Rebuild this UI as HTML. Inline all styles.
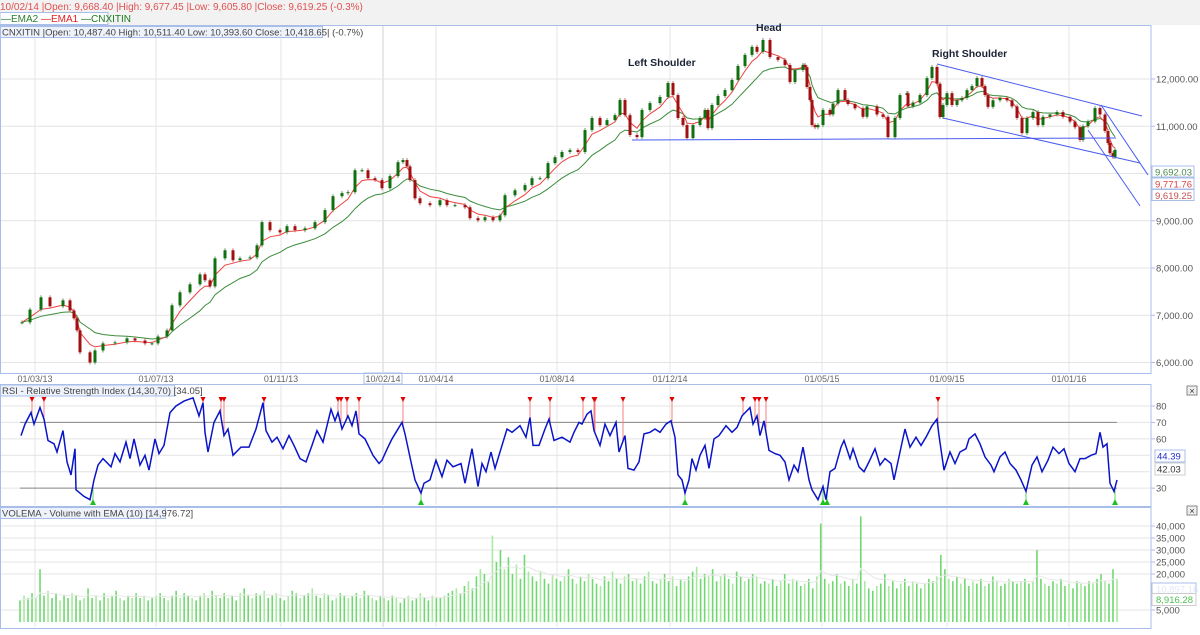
<!DOCTYPE html>
<html><head><meta charset="utf-8">
<style>
html,body{margin:0;padding:0;background:#fff;}
body{width:1200px;height:630px;overflow:hidden;font-family:"Liberation Sans",sans-serif;}
svg text{font-family:"Liberation Sans",sans-serif;}
</style></head>
<body>
<svg id="chart" width="1200" height="630" viewBox="0 0 1200 630" xmlns="http://www.w3.org/2000/svg">
<rect x="0" y="0" width="1200" height="25" fill="#f2f2f2"/>
<text x="0" y="10" font-size="10" fill="#e05050">10/02/14 |Open: 9,668.40 |High: 9,677.45 |Low: 9,605.80 |Close: 9,619.25 (-0.3%)</text>
<g>
<rect x="0" y="12.5" width="108" height="12" fill="#fff" stroke="#a8bde8"/>
<text x="1" y="22" font-size="10"><tspan fill="#2e7d2e">—EMA2 </tspan><tspan fill="#e02020">—EMA1 </tspan><tspan fill="#1a7a1a">—CNXITIN</tspan></text>
</g>
<g id="grid"></g>
<g id="main"></g>
<g id="rsi"></g>
<g id="vol"></g>
<g id="ann"></g>
</svg>
<script>
const priceDay=[2,10,21,30,43,50,54,57,60,70,75,83,95,107,115,125,132,138,147,152,160,170,180,185,190,195,205,213,220,230,237,242,250,260,267,275,285,295,305,313,322,328,335,342,348,355,362,370,378,383,387,390,395,400,410,420,427,435,445,450,458,465,473,480,485,495,505,512,520,528,535,542,550,558,565,572,580,587,595,600,605,610,617,622,630,640,648,653,658,663,667,673,680,685,688,692,698,705,712,718,725,732,737,743,750,758,765,770,775,783,785,787,790,792,795,798,803,810,813,818,825,828,835,843,847,857,863,868,875,880,887,888,893,900,907,912,917,920,923,927,932,937,942,947,952,957,962,965,968,973,980,987,992,997,1002,1007,1013,1018,1023,1030,1037,1043,1050,1055,1060,1063,1068,1075,1080,1085,1088,1090,1093,1095,1097];
const priceClose=[6850,7120,7380,7190,7315,7100,6935,6680,6215,6000,6255,6405,6425,6510,6465,6405,6405,6550,6680,7210,7485,7655,7865,7740,7610,8205,8375,8165,8205,8225,8480,8970,8800,8755,8885,8800,8840,8970,9225,9520,9585,9605,10070,10070,9900,9860,9690,9945,10240,10285,10150,9860,9475,9370,9330,9435,9330,9330,9285,9055,9010,9075,9010,9115,9540,9645,9755,9900,9900,10220,10345,10455,10495,10455,10920,11175,11025,11130,11235,11555,11235,10815,10770,11345,11490,11620,11915,11660,11175,11025,10750,11025,11175,11345,10960,11450,11640,11765,11980,12275,12510,12680,12575,12825,12465,12405,12295,11935,12190,12300,12250,11830,11555,11025,10980,11025,11345,11250,11480,11765,11555,11470,11380,11200,11420,11250,11200,10770,11175,11660,11700,11420,11500,11660,12020,12255,11900,11195,11450,11700,11450,11550,11600,11765,11850,12020,11850,11660,11410,11550,11600,11550,11420,11175,10855,11175,11300,11025,11200,11250,11300,11200,11100,10980,10710,11000,11100,11385,11250,10900,10645,10430,10350,10500];
const priceTicks=[12000,11000,10000,9000,8000,7000,6000];
const priceTickLabels=["12,000.00","11,000.00","","9,000.00","8,000.00","7,000.00","6,000.00"];
const dateDays=[15,136,261,363,416,537,650,802,927,1049];
const dateLabels=["01/03/13","01/07/13","01/11/13","10/02/14","01/04/14","01/08/14","01/12/14","01/05/15","01/09/15","01/01/16"];
const rsiDay=[
1,5,11,14,20,24,28,34,37,43,
47,51,55,56,64,70,74,78,83,91,
95,100,106,110,114,120,125,129,135,139,
144,150,156,164,173,179,183,185,188,194,
200,204,208,213,221,229,236,243,246,252,
257,263,269,274,280,286,292,297,303,311,
315,318,322,328,332,336,339,345,349,353,
359,362,368,372,376,382,385,391,395,401,
404,410,416,422,427,433,441,445,448,452,
458,462,466,471,475,481,487,492,500,506,
510,513,519,525,529,534,542,550,554,559,
562,567,571,574,580,585,590,596,599,605,
608,614,619,624,630,635,640,646,651,655,
658,662,665,669,672,676,680,685,689,694,
699,706,712,717,722,730,733,737,740,744,
749,755,760,765,769,774,778,783,789,792,
798,803,806,810,815,821,824,830,833,839,
844,849,855,860,865,871,874,880,885,890,
896,901,906,912,917,919,924,930,935,940,
946,949,955,960,965,971,974,980,985,990,
996,1001,1006,1012,1017,1022,1028,1033,1039,1044,
1049,1055,1060,1065,1071,1076,1080,1083,1087,1090,
1094,1097];
const rsiValue=[
62,69,76,69,79,72,59,57,52,65,
46,38,54,29,25,23,35,44,48,43,
51,46,58,48,60,44,50,41,60,51,
56,76,80,83,85,74,82,64,52,70,
77,62,66,50,55,55,66,82,65,58,
61,54,62,56,48,46,56,65,58,78,
71,76,66,74,68,77,63,60,55,50,
45,47,55,60,64,70,63,46,35,27,
33,35,47,37,47,43,45,33,42,54,
31,45,40,52,42,54,66,64,68,61,
73,56,56,66,72,59,61,58,64,70,
69,75,77,65,56,69,62,70,52,62,
42,41,46,63,64,66,64,69,71,61,
38,35,27,35,48,41,50,56,42,60,
62,68,64,67,74,79,69,74,62,71,
53,51,50,46,35,44,40,55,35,29,
23,31,23,40,42,55,59,48,54,43,
40,46,54,44,48,45,35,52,66,55,
61,56,61,68,72,62,41,52,45,52,
54,60,63,57,49,44,40,49,52,45,
41,35,28,44,49,40,47,55,51,54,
45,40,48,48,50,51,64,55,57,33,
28,35];
const rsiTicks=[80,70,60,30];
const rsiSellDays=[12,24,183,201,204,244,318,321,327,339,383,510,530,563,574,575,603,652,723,735,739,746,918];
const rsiBuyDays=[73,401,665,803,807,1006,1095];
const volValue=[9,11,10,12,10,22,11,13,10,12,9,11,10,12,11,9,10,14,10,11,9,12,10,11,13,10,9,11,10,12,10,11,9,
10,11,12,10,9,11,13,10,12,11,10,9,11,12,10,13,11,10,12,10,11,9,12,14,11,10,12,11,13,10,11,12,10,9,11,13,12,10,11,12,14,11,10,12,11,9,10,12,11,10,11,12,10,13,11,10,9,11,
10,9,11,10,8,10,11,9,10,12,10,9,11,10,10,11,12,13,14,12,
15,17,14,19,22,20,17,36,25,30,22,27,20,24,18,28,21,
19,17,21,18,16,20,18,17,19,22,18,16,19,17,20,18,16,15,19,17,21,18,16,19,20,17,18,16,19,21,17,16,18,20,17,19,15,18,17,19,21,23,18,20,19,22,17,19,20,18,16,21,19,17,18,20,19,16,
17,16,18,15,17,20,16,18,17,15,16,18,14,19,41,18,16,17,20,16,
17,15,18,16,44,17,14,13,15,16,20,15,17,14,16,18,15,17,16,14,
16,18,17,19,28,22,18,17,19,16,18,15,17,16,18,15,16,19,17,15,16,18,17,16,17,
18,16,17,30,18,16,15,17,16,18,15,16,14,17,16,15,17,16,18,20,17,16,22,18];
const volTicks=[40000,35000,30000,25000,20000,5000];
const volTickLabels=["40,000","35,000","30,000","25,000","20,000","5,000"];

const NS="http://www.w3.org/2000/svg";
function mk(parent,tag,attrs){const e=document.createElementNS(NS,tag);for(const k in attrs)e.setAttribute(k,attrs[k]);parent.appendChild(e);return e;}
const X=d=>20+d;
const PY=v=>79+(12000-v)*0.04725;
const RY=v=>406+(80-v)*1.643;
const VY=k=>622-k*2.4;
const PLOT_R=1151;

const grid=document.getElementById('grid');
[[25,373],[384,506],[507,628]].forEach(([t,b],i)=>{
  const r=mk(grid,'rect',{x:0.5,y:t+0.5,width:PLOT_R-0.5,height:b-t,fill:'none',stroke:'#a8bde8'});
  
  
});
dateDays.forEach((d,i)=>{
  [[26,372],[385,505],[508,627]].forEach(([t,b])=>{
    const l=mk(grid,'line',{x1:X(d),x2:X(d),y1:t,y2:b,stroke:i==3?'#d0d0d0':'#e4e4e4'});
    
    
  });
  const tx=mk(grid,'text',{x:X(d),y:382,'font-size':9,fill:'#666','text-anchor':'middle'});
  tx.textContent=dateLabels[i];
  
  
  if(i==3){const bx=mk(grid,'rect',{x:X(d)-19,y:373,width:38,height:11,fill:'none',stroke:'#a8bde8'});
    
    }
});
priceTicks.forEach((v,i)=>{
  const l=mk(grid,'line',{x1:1,x2:PLOT_R,y1:PY(v),y2:PY(v),stroke:'#e4e4e4'});
  
  
  mk(grid,'line',{x1:PLOT_R,x2:PLOT_R+4,y1:PY(v),y2:PY(v),stroke:'#a8bde8'});
  if(priceTickLabels[i]){const t=mk(grid,'text',{x:1156,y:PY(v)+3.5,'font-size':9.5,fill:'#555'});
    t.textContent=priceTickLabels[i];
    
    }
});
[['9,692.03',172,'#4a8a4a'],['9,771.76',184,'#e04040'],['9,619.25',195.5,'#c05050']].forEach(([s,y,c])=>{
  const b=mk(grid,'rect',{x:1152,y:y-6,width:42,height:11,fill:'#fff',stroke:'#a8bde8'});
  
  
  const t=mk(grid,'text',{x:1155,y:y+3.5,'font-size':9.5,fill:c});t.textContent=s;
  
  
});
{const b=mk(grid,'rect',{x:0.5,y:26.5,width:322,height:11,fill:'#eef2fb',stroke:'#a8bde8'});


const t=mk(grid,'text',{x:2,y:35.5,'font-size':9.5,fill:'#444'});
t.textContent='CNXITIN |Open: 10,487.40  High: 10,511.40  Low: 10,393.60  Close: 10,418.65| (-0.7%)';

}

const main=document.getElementById('main');
function ema(arr,a){const o=[];let e=arr[0];arr.forEach(v=>{e=e+a*(v-e);o.push(e);});return o;}
const ema1=ema(priceClose,0.4), ema2=ema(priceClose,0.17);
function poly(g,days,vals,yf,color,w,name){
  const p=mk(g,'polyline',{points:days.map((d,i)=>X(d)+','+yf(vals[i]).toFixed(1)).join(' '),fill:'none',stroke:color,'stroke-width':w});
  
  
  return p;
}
poly(main,priceDay,ema2,PY,'#3c8c3c',1,'ema2-line');
poly(main,priceDay,ema1,PY,'#f04040',1,'ema1-line');
priceClose.forEach((c,i)=>{
  const o=i?priceClose[i-1]:c;
  const up=c>=o;
  const col=up?'#107010':'#a01010';
  const top=PY(Math.max(o,c)),bot=PY(Math.min(o,c));
  const w=mk(main,'line',{x1:X(priceDay[i]),x2:X(priceDay[i]),y1:top-2,y2:bot+2,stroke:up?'#6a9a6a':'#c07070'});
  
  
  const r=mk(main,'rect',{x:X(priceDay[i])-1.5,y:top,width:3,height:Math.max(1,bot-top),fill:col});
  
  
});

const rsi=document.getElementById('rsi');
[80,70,60,50,40,30].forEach(v=>{
  const l=mk(rsi,'line',{x1:1,x2:PLOT_R,y1:RY(v),y2:RY(v),stroke:'#e4e4e4'});
  
  
});
rsiTicks.forEach(v=>{
  mk(rsi,'line',{x1:PLOT_R,x2:PLOT_R+4,y1:RY(v),y2:RY(v),stroke:'#a8bde8'});
  const t=mk(rsi,'text',{x:1156,y:RY(v)+3.5,'font-size':9.5,fill:'#555'});t.textContent=v;
  
  
});
[70,30].forEach(v=>{
  const l=mk(rsi,'line',{x1:X(0),x2:X(1097),y1:RY(v),y2:RY(v),stroke:'#888'});
  
  
});
function rsiAt(d){for(let i=1;i<rsiDay.length;i++){if(rsiDay[i]>=d){const a=rsiDay[i-1],b=rsiDay[i];const f=b>a?(d-a)/(b-a):0;return rsiValue[i-1]+f*(rsiValue[i]-rsiValue[i-1]);}}return rsiValue[rsiValue.length-1];}
rsiSellDays.forEach(d=>{
  const l=mk(rsi,'line',{x1:X(d),x2:X(d),y1:399,y2:RY(rsiAt(d)),stroke:'#f08080'});
  
  
  const t=mk(rsi,'polygon',{points:`${X(d)-2.5},397 ${X(d)+2.5},397 ${X(d)},402`,fill:'#e00000'});
  
  
});
rsiBuyDays.forEach(d=>{
  const l=mk(rsi,'line',{x1:X(d),x2:X(d),y1:RY(rsiAt(d)),y2:501,stroke:'#60d060'});
  
  
  const t=mk(rsi,'polygon',{points:`${X(d)-3},505 ${X(d)+3},505 ${X(d)},499`,fill:'#20c020'});
  
  
});
poly(rsi,rsiDay,rsiValue,RY,'#0a14c8',1.5,'rsi-line');
{const b=mk(rsi,'rect',{x:0.5,y:385,width:174,height:11,fill:'#eef2fb',stroke:'#a8bde8'});


const t=mk(rsi,'text',{x:2,y:394,'font-size':9.5,fill:'#444'});t.textContent='RSI - Relative Strength Index (14,30,70) [34.05]';


[['44.39',456,'#2030d0'],['42.03',469,'#333']].forEach(([s,y,c])=>{
  const bb=mk(rsi,'rect',{x:1155,y:y-6,width:30,height:12,fill:'#fff',stroke:c=='#333'?'#ccc':'#a8bde8'});
  
  
  const tt=mk(rsi,'text',{x:1157,y:y+3.5,'font-size':9.5,fill:c});tt.textContent=s;
  
  
});}
{const cb=mk(rsi,'rect',{x:1187,y:386,width:10,height:9,fill:'#eee',stroke:'#888'});


const ct=mk(rsi,'text',{x:1192,y:394,'font-size':9,fill:'#333','text-anchor':'middle'});ct.textContent='×';

}

const vol=document.getElementById('vol');
volTicks.forEach((v,i)=>{
  const l=mk(vol,'line',{x1:1,x2:PLOT_R,y1:VY(v/1000),y2:VY(v/1000),stroke:'#e4e4e4'});
  
  
  mk(vol,'line',{x1:PLOT_R,x2:PLOT_R+4,y1:VY(v/1000),y2:VY(v/1000),stroke:'#a8bde8'});
  const t=mk(vol,'text',{x:1156,y:VY(v/1000)+3.5,'font-size':9.5,fill:'#555'});t.textContent=volTickLabels[i];
  
  
});
const volStep=1097/(volValue.length-1);
volValue.forEach((v,i)=>{
  const x=X(i*volStep);
  const r=mk(vol,'rect',{x:x-0.8,y:VY(v),width:1.6,height:622-VY(v),fill:i%3==1?'#a8e8a0':'#70d870'});
  
  
});
const volEma=ema(volValue,2/11);
{const p=mk(vol,'polyline',{points:volValue.map((v,i)=>X(i*volStep).toFixed(1)+','+VY(volEma[i]).toFixed(1)).join(' '),fill:'none',stroke:'#e8e8e8','stroke-width':1});

}
{const b=mk(vol,'rect',{x:0.5,y:507.5,width:165,height:11,fill:'#eef2fb',stroke:'#a8bde8'});


const t=mk(vol,'text',{x:2,y:516.5,'font-size':9.5,fill:'#444'});t.textContent='VOLEMA - Volume with EMA (10) [14,976.72]';


[['10,897.16',589,'#e0e8f8','#a8bde8'],['8,916.28',599.5,'#50c050','#ccc']].forEach(([s,y,c,sc])=>{
  const bb=mk(vol,'rect',{x:1152,y:y-6,width:44,height:12,fill:'#fff',stroke:sc});
  
  
  const tt=mk(vol,'text',{x:1156,y:y+3.5,'font-size':9.5,fill:c});tt.textContent=s;
  
  
});
const cb=mk(vol,'rect',{x:1187,y:506,width:10,height:9,fill:'#eee',stroke:'#888'});


const ct=mk(vol,'text',{x:1192,y:514,'font-size':9,fill:'#333','text-anchor':'middle'});ct.textContent='×';

}
</script>
<svg style="position:absolute;left:0;top:0" width="1200" height="630">
<g stroke="#4a5cf0" stroke-width="1" fill="none">
<line x1="632" y1="140" x2="1116" y2="138"/>
<line x1="937" y1="64" x2="1142" y2="116"/>
<line x1="943" y1="118" x2="1140" y2="163"/>
<line x1="1101" y1="105" x2="1148" y2="175"/>
<line x1="1088" y1="130" x2="1140" y2="206"/>
</g>
<g font-family="Liberation Sans, sans-serif" font-size="10.5" font-weight="bold" fill="#1a2233">
<text x="756" y="31">Head</text>
<text x="628" y="66">Left Shoulder</text>
<text x="932" y="57">Right Shoulder</text>
</g>
</svg>
</body></html>
